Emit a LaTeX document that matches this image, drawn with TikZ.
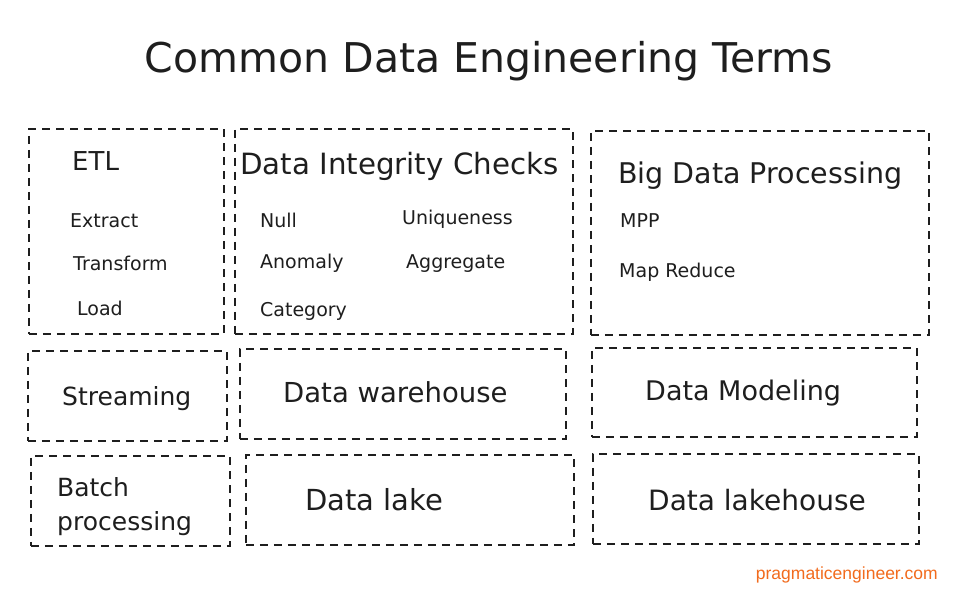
\documentclass[tikz,border=0pt]{standalone}
\usepackage{fontspec}
\setmainfont{DejaVu Sans}
\newfontfamily\footfont{Liberation Sans}
\definecolor{ink}{HTML}{1E1E1E}
\definecolor{orng}{HTML}{F26B1D}
\begin{document}
\begin{tikzpicture}[x=1pt,y=-1pt,
  box/.style={draw=ink, line width=1.9pt, dash pattern=on 8pt off 6pt, anchor=north west, inner sep=0pt},
  txt/.style={anchor=base west, inner sep=0pt, text=ink},
  head/.style={txt, font=\fontsize{27}{30}\selectfont},
  item/.style={txt, font=\fontsize{19}{22}\selectfont},
  big/.style={txt, font=\fontsize{26}{30}\selectfont}]
\useasboundingbox[fill=white] (0,0) rectangle (963,600);
% title
\node[anchor=base, inner sep=0pt, text=ink, font=\fontsize{41}{46}\selectfont] (title) at (489,72) {Common Data Engineering Terms};
% boxes
\node[box, minimum width=195pt, minimum height=205pt] (etl) at (28,128) {};
\node[box, minimum width=338pt, minimum height=205pt] (dic) at (234,128) {};
\node[box, minimum width=338pt, minimum height=204pt] (bdp) at (590,130) {};
\node[box, minimum width=199pt, minimum height=90pt] (str) at (27,350) {};
\node[box, minimum width=326pt, minimum height=90pt] (dwh) at (239,348) {};
\node[box, minimum width=325pt, minimum height=89pt] (dmo) at (591,347) {};
\node[box, minimum width=199pt, minimum height=90pt] (bat) at (30,455) {};
\node[box, minimum width=328pt, minimum height=90pt] (dla) at (245,454) {};
\node[box, minimum width=326pt, minimum height=90pt] (dlh) at (592,453) {};
% ETL
\node[head, font=\fontsize{26}{30}\selectfont] (etlT) at (72,170) {ETL};
\node[item] (ext) at (70,227) {Extract};
\node[item] (tra) at (73,270) {Transform};
\node[item] (loa) at (77,315) {Load};
% Data integrity
\node[head, font=\fontsize{29.3}{32}\selectfont] (dicT) at (240,174) {Data Integrity Checks};
\node[item] (nul) at (260,227) {Null};
\node[item] (uni) at (402,224) {Uniqueness};
\node[item] (ano) at (260,268) {Anomaly};
\node[item] (agg) at (406,268) {Aggregate};
\node[item] (cat) at (260,316) {Category};
% Big data
\node[head, font=\fontsize{28.5}{32}\selectfont] (bdpT) at (618,183) {Big Data Processing};
\node[item] (mpp) at (620,227) {MPP};
\node[item] (mpr) at (619,277) {Map Reduce};
% single labels
\node[big, font=\fontsize{25}{30}\selectfont] (strT) at (62,405) {Streaming};
\node[big, font=\fontsize{27.5}{30}\selectfont] (dwhT) at (283,402) {Data warehouse};
\node[big, font=\fontsize{27}{30}\selectfont] (dmoT) at (645,400) {Data Modeling};
\node[big, font=\fontsize{25}{30}\selectfont] (batT) at (57,496) {Batch};
\node[big, font=\fontsize{25}{30}\selectfont] (proT) at (57,530) {processing};
\node[big, font=\fontsize{29}{30}\selectfont] (dlaT) at (305,510) {Data lake};
\node[big, font=\fontsize{28}{30}\selectfont] (dlhT) at (648,510) {Data lakehouse};
% footer
\node[anchor=base east, inner sep=0pt, text=orng, font=\footfont\fontsize{17.5}{20}\selectfont] (foot) at (938,579) {pragmaticengineer.com};
\end{tikzpicture}
\end{document}
